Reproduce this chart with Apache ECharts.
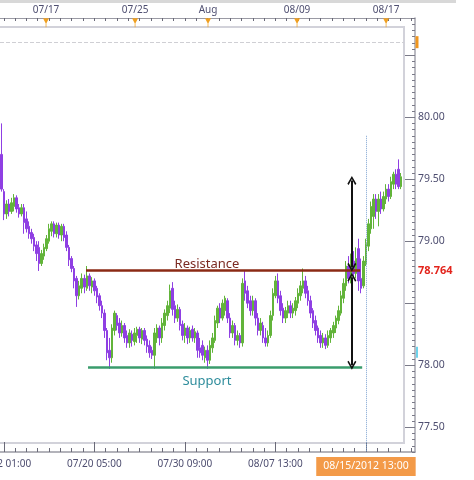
<!DOCTYPE html>
<html><head><meta charset="utf-8">
<script src="https://cdn.jsdelivr.net/npm/echarts@6/dist/echarts.min.js"></script>
<style>html,body{margin:0;padding:0;background:#fff}#c{width:474px;height:480px}</style>
</head><body><div id="c"></div>
<script>
// ---- data (4-hour bars, index = bar position) ----
const opens = [79.70,79.40,79.22,79.30,79.24,79.28,79.35,79.27,79.22,79.27,79.18,79.12,79.07,79.03,78.97,78.95,78.82,78.88,78.94,79.00,
79.08,79.14,79.06,79.13,79.05,79.12,79.05,78.95,78.86,78.78,78.70,78.56,78.62,78.70,78.62,78.72,78.63,78.68,78.62,78.56,
78.48,78.42,78.28,78.12,78.06,78.28,78.40,78.34,78.26,78.32,78.24,78.18,78.25,78.19,78.24,78.29,78.21,78.28,78.21,78.16,
78.12,78.08,78.22,78.30,78.22,78.32,78.40,78.46,78.62,78.48,78.38,78.45,78.33,78.24,78.30,78.22,78.29,78.22,78.26,78.14,
78.16,78.06,78.12,78.04,78.14,78.20,78.34,78.46,78.38,78.44,78.52,78.38,78.26,78.32,78.20,78.24,78.18,78.68,78.60,78.52,
78.44,78.52,78.38,78.28,78.32,78.22,78.18,78.24,78.40,78.56,78.68,78.56,78.46,78.38,78.42,78.48,78.42,78.44,78.50,78.56,
78.62,78.68,78.60,78.52,78.44,78.36,78.30,78.24,78.18,78.22,78.16,78.22,78.26,78.30,78.36,78.42,78.54,78.64,78.80,78.70,
78.84,78.74,78.94,78.70,78.64,78.82,78.96,79.10,79.20,79.34,79.24,79.34,79.26,79.34,79.42,79.36,79.46,79.54,79.58,79.44];
const closes = [79.42,79.22,79.30,79.24,79.31,79.35,79.26,79.22,79.27,79.15,79.10,79.06,79.02,78.96,78.90,78.82,78.90,78.95,79.02,79.10,
79.14,79.06,79.13,79.05,79.12,79.03,78.95,78.85,78.78,78.68,78.56,78.64,78.70,78.63,78.72,78.64,78.68,78.60,78.55,78.48,
78.42,78.28,78.10,78.06,78.30,78.42,78.32,78.26,78.32,78.22,78.18,78.26,78.20,78.26,78.29,78.22,78.28,78.20,78.15,78.10,
78.08,78.26,78.30,78.22,78.34,78.42,78.48,78.60,78.45,78.38,78.45,78.32,78.24,78.30,78.22,78.28,78.22,78.27,78.12,78.10,
78.08,78.12,78.04,78.16,78.22,78.36,78.46,78.38,78.50,78.54,78.38,78.26,78.32,78.20,78.24,78.18,78.66,78.58,78.50,78.44,
78.52,78.38,78.28,78.34,78.22,78.18,78.24,78.40,78.58,78.68,78.54,78.44,78.38,78.44,78.48,78.42,78.46,78.52,78.58,78.64,
78.68,78.58,78.52,78.42,78.34,78.28,78.22,78.18,78.22,78.16,78.24,78.28,78.32,78.38,78.44,78.56,78.66,78.80,78.70,78.82,
78.74,78.86,78.68,78.62,78.84,78.98,79.14,79.28,79.34,79.24,79.34,79.26,79.36,79.42,79.36,79.48,79.54,79.46,79.44,79.52];
const lows = [79.40,79.17,79.18,79.20,79.22,79.24,79.23,79.19,79.20,79.06,79.07,79.02,78.98,78.92,78.84,78.76,78.80,78.85,78.92,78.98,
79.04,79.03,79.03,79.02,79.00,79.00,78.92,78.80,78.75,78.62,78.47,78.53,78.58,78.58,78.60,78.60,78.58,78.56,78.50,78.44,
78.38,78.22,78.04,77.97,78.02,78.24,78.28,78.22,78.23,78.18,78.14,78.14,78.15,78.16,78.18,78.18,78.17,78.16,78.10,78.06,
78.05,77.97,78.18,78.16,78.18,78.28,78.36,78.42,78.40,78.34,78.35,78.28,78.20,78.18,78.17,78.18,78.19,78.18,78.06,78.06,
78.04,78.02,77.97,78.01,78.10,78.18,78.30,78.34,78.36,78.40,78.34,78.22,78.22,78.16,78.16,78.14,78.15,78.52,78.46,78.40,
78.40,78.32,78.24,78.24,78.18,78.15,78.15,78.22,78.36,78.54,78.50,78.40,78.34,78.34,78.38,78.38,78.38,78.40,78.46,78.52,
78.58,78.54,78.48,78.38,78.30,78.24,78.18,78.14,78.14,78.13,78.14,78.18,78.22,78.26,78.33,78.40,78.50,78.60,78.66,78.66,
78.70,78.70,78.60,78.58,78.62,78.80,78.92,79.06,79.10,79.18,79.12,79.22,79.24,79.30,79.32,79.34,79.42,79.42,79.42,79.42];
const highs = [79.95,79.42,79.33,79.34,79.35,79.38,79.37,79.30,79.30,79.30,79.24,79.16,79.10,79.06,79.00,79.00,78.93,78.98,79.05,79.14,
79.16,79.16,79.15,79.15,79.14,79.14,79.08,78.97,78.88,78.80,78.72,78.68,78.74,78.73,78.80,78.74,78.71,78.70,78.64,78.58,
78.52,78.45,78.30,78.22,78.33,78.44,78.42,78.38,78.36,78.34,78.28,78.29,78.28,78.30,78.31,78.31,78.30,78.30,78.24,78.20,
78.15,78.30,78.33,78.32,78.38,78.45,78.52,78.65,78.67,78.52,78.49,78.47,78.36,78.34,78.32,78.31,78.32,78.30,78.28,78.22,
78.20,78.15,78.16,78.20,78.26,78.40,78.48,78.50,78.53,78.56,78.54,78.42,78.36,78.34,78.28,78.26,78.70,78.76,78.64,78.56,
78.56,78.54,78.42,78.38,78.35,78.30,78.28,78.44,78.62,78.72,78.74,78.60,78.50,78.47,78.52,78.52,78.50,78.55,78.62,78.68,
78.78,78.72,78.64,78.56,78.46,78.40,78.32,78.28,78.26,78.25,78.28,78.30,78.35,78.40,78.48,78.60,78.70,78.84,78.88,78.90,
78.92,78.95,79.02,78.86,78.88,79.02,79.18,79.32,79.38,79.38,79.38,79.40,79.40,79.46,79.46,79.52,79.56,79.58,79.66,79.55];

// ---- axes / labels ----
const bottomLabelIdx = [1, 37, 73, 109];
const bottomLabels = ['07/12 01:00', '07/20 05:00', '07/30 09:00', '08/07 13:00'];
const bottomMajorIdx = [1, 37, 73, 109, 145];
const cursorIdx = 145;
const cursorLabel = '08/15/2012 13:00';
const topLabelIdx = [17.8, 53.2, 82.2, 117.6, 153.0];
const topLabels = ['07/17', '07/25', 'Aug', '08/09', '08/17'];
const yLabelValues = [77.5, 78, 78.764, 79, 79.5, 80];
const yMajorTicks = [77.5, 78, 78.5, 79, 79.5, 80, 80.5];
const lastPrice = 78.764;

// ---- annotations ----
const resistance = 78.764;
const support = 77.985;
const resistanceSpan = [33.7, 142.7];
const supportSpan = [34.5, 143.5];
const labelIdx = 81.8;
const resistanceLabelY = 78.81;
const supportLabelY = 77.87;
const arrowIdx = 139.4;
const arrowUp = [78.79, 79.49];
const arrowDown = [78.0, 78.71];
const cursorTop = 79.85;
const dashedLevel = 80.605;
const dashedEnd = 160.2;
const markerTriY = 80.762;
const cyanMarker = 78.105;

const XMIN = -0.5, XMAX = 164.5, YMIN = 77.3, YMAX = 80.8;
const minorStep = 4.5;
const minorTicks = [];
for (let v = 1; v <= XMAX; v += minorStep) minorTicks.push(v);

const FONT = 'Noto Sans';
const AX = '#4e4e70';
const chart = echarts.init(document.getElementById('c'), null, {renderer: 'canvas'});

const candleData = opens.map((o, i) => [i, o, closes[i], lows[i], highs[i]]);
const chevron = 'path://M5,0 L10,8 L8.6,9.2 L5,3.2 L1.4,9.2 L0,8 Z';
const tri = 'path://M0,0 L10,0 L5,9 Z M4.4,8 L5.6,8 L5.6,14 L4.4,14 Z';

const option = {
  animation: false,
  backgroundColor: '#fff',
  grid: {left: 0, right: 59, top: 18, bottom: 28, containLabel: false, outerBoundsMode: 'none'},
  graphic: [
    {type: 'rect', z: -10, shape: {x: 0, y: 0, width: 456, height: 3}, style: {fill: '#d8d8d8'}},
    {type: 'rect', z: -10, shape: {x: -3, y: 27, width: 407, height: 416}, style: {fill: 'none', stroke: '#d2d2da', lineWidth: 2}}
  ],
  xAxis: [
    {type: 'value', min: XMIN, max: XMAX, position: 'bottom',
     axisLine: {show: true, onZero: false, lineStyle: {color: '#9a9aa4', width: 1.5}},
     axisTick: {show: true, inside: true, length: 4, customValues: minorTicks, lineStyle: {color: '#6a6a78'}},
     axisLabel: {show: false}, splitLine: {show: false}},
    {type: 'value', min: XMIN, max: XMAX, position: 'bottom',
     axisLine: {show: false, onZero: false},
     axisTick: {show: true, inside: true, length: 10, customValues: bottomMajorIdx, lineStyle: {color: '#6a6a78'}},
     axisLabel: {show: true, customValues: bottomLabelIdx, margin: 7, color: AX, fontSize: 10, fontFamily: FONT,
       formatter: v => { const k = bottomLabelIdx.indexOf(v); return k >= 0 ? bottomLabels[k] : ''; }},
     splitLine: {show: false}},
    {type: 'value', min: XMIN, max: XMAX, position: 'bottom',
     axisLine: {show: false, onZero: false}, axisTick: {show: false},
     axisLabel: {show: true, customValues: [cursorIdx], margin: 5, color: '#fff', fontSize: 10.5, fontFamily: FONT,
       backgroundColor: '#f39a48', padding: [4, 7, 4, 7], formatter: () => cursorLabel},
     splitLine: {show: false}},
    {type: 'value', min: XMIN, max: XMAX, position: 'top',
     axisLine: {show: true, onZero: false, lineStyle: {color: '#9a9aa4', width: 1}},
     axisTick: {show: true, inside: true, length: 3, customValues: minorTicks, lineStyle: {color: '#6a6a78'}},
     axisLabel: {show: true, customValues: topLabelIdx, margin: 3, color: AX, fontSize: 10, fontFamily: FONT,
       formatter: v => { const k = topLabelIdx.indexOf(v); return k >= 0 ? topLabels[k] : ''; }},
     splitLine: {show: false}}
  ],
  yAxis: [
    {type: 'value', position: 'right', min: YMIN, max: YMAX, interval: 0.05,
     axisLine: {show: true, onZero: false, lineStyle: {color: '#a4a4ae', width: 1.5}},
     axisTick: {show: true, inside: true, length: 3, lineStyle: {color: '#7a7a88'}},
     axisLabel: {show: false}, splitLine: {show: false}},
    {type: 'value', position: 'right', min: YMIN, max: YMAX,
     axisLine: {show: false, onZero: false},
     axisTick: {show: true, inside: true, length: 10, customValues: yMajorTicks, lineStyle: {color: '#7a7a88'}},
     axisLabel: {show: true, customValues: yLabelValues, margin: 3, color: AX, fontSize: 10.5, fontFamily: FONT,
       formatter: v => Math.abs(v - lastPrice) < 1e-6 ? '{r|' + lastPrice.toFixed(3) + '}' : v.toFixed(2),
       rich: {r: {color: '#e3241c', fontWeight: 'bold', fontSize: 11, fontFamily: FONT}}},
     splitLine: {show: false}}
  ],
  series: [
    {type: 'candlestick', xAxisIndex: 0, yAxisIndex: 0, data: candleData, barWidth: 2, z: 3,
     itemStyle: {color: '#62b43a', color0: '#8f3fe3', borderColor: '#62b43a', borderColor0: '#8f3fe3', borderWidth: 1}},
    {type: 'line', xAxisIndex: 0, yAxisIndex: 0, data: [], z: 4, silent: true,
     markLine: {silent: true, symbol: ['none', 'none'], label: {show: false}, animation: false,
       data: [
         [{coord: [XMIN, dashedLevel], lineStyle: {color: '#cfcfd4', type: 'dashed', width: 1}}, {coord: [dashedEnd, dashedLevel]}],
         [{coord: [cursorIdx, cursorTop], lineStyle: {color: '#7fa4d2', type: 'dotted', width: 1}}, {coord: [cursorIdx, YMIN]}],
         [{coord: [resistanceSpan[0], resistance], lineStyle: {color: '#8b2a14', type: 'solid', width: 2.5}}, {coord: [resistanceSpan[1], resistance]}],
         [{coord: [supportSpan[0], support], lineStyle: {color: '#3a9c6c', type: 'solid', width: 2.5}}, {coord: [supportSpan[1], support]}]
       ]},
     markPoint: {silent: true, animation: false,
       data: [
         {coord: [labelIdx, resistanceLabelY], symbol: 'circle', symbolSize: 1, itemStyle: {color: 'rgba(0,0,0,0)'},
          label: {show: true, position: 'inside', formatter: 'Resistance', color: '#7b2a22', fontSize: 13, fontFamily: FONT}},
         {coord: [labelIdx, supportLabelY], symbol: 'circle', symbolSize: 1, itemStyle: {color: 'rgba(0,0,0,0)'},
          label: {show: true, position: 'inside', formatter: 'Support', color: '#2f8d9c', fontSize: 13, fontFamily: FONT}},
         {coord: [XMAX, dashedLevel], symbol: 'rect', symbolSize: [3, 12], symbolOffset: [2, 0], itemStyle: {color: '#f0961e'}, label: {show: false}},
         {coord: [XMAX, cyanMarker], symbol: 'rect', symbolSize: [1.5, 11], symbolOffset: [2, 0], itemStyle: {color: '#3cc4e4'}, label: {show: false}}
       ].concat(topLabelIdx.map(x => ({coord: [x, markerTriY], symbol: tri, symbolSize: [6, 9], itemStyle: {color: '#f0a020'}, label: {show: false}})))
     }},
    {type: 'line', xAxisIndex: 0, yAxisIndex: 0, data: [], z: 6, silent: true,
     markLine: {silent: true, label: {show: false}, animation: false, symbol: [chevron, chevron], symbolSize: [9, 9],
       lineStyle: {color: '#111', type: 'solid', width: 2},
       data: [
         [{coord: [arrowIdx, arrowUp[0]]}, {coord: [arrowIdx, arrowUp[1]]}],
         [{coord: [arrowIdx, arrowDown[0]]}, {coord: [arrowIdx, arrowDown[1]]}]
       ]}}
  ]
};
chart.setOption(option);
</script>
</body></html>
